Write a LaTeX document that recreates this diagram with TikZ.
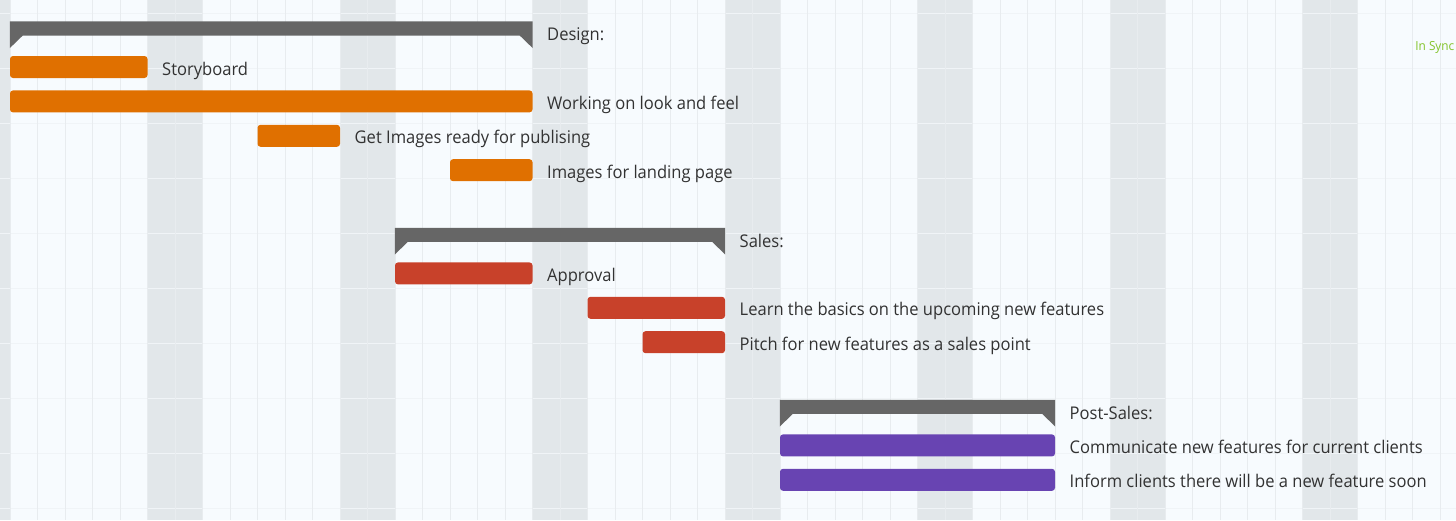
\documentclass[tikz,border=0pt]{standalone}
\usepackage{fontspec}
\setmainfont{Open Sans}[FakeStretch=0.945]
\usetikzlibrary{calc}
\definecolor{bgc}{RGB}{247,251,254}
\definecolor{wkc}{RGB}{226,231,234}
\definecolor{vlc}{RGB}{232,236,239}
\definecolor{hlc}{RGB}{240,244,247}
\definecolor{orc}{RGB}{224,112,0}
\definecolor{rdc}{RGB}{200,65,42}
\definecolor{puc}{RGB}{104,68,178}
\definecolor{smc}{RGB}{102,102,102}
\definecolor{txc}{RGB}{50,50,50}
\definecolor{syc}{RGB}{130,195,40}
\begin{document}
\begin{tikzpicture}[x=1pt,y=-1pt,
  taskbar/.style={rectangle,rounded corners=3pt,minimum height=22pt,inner sep=0pt,draw=none},
  sumbox/.style={rectangle,minimum height=26.3pt,inner sep=0pt,draw=none},
  lbl/.style={anchor=base west,inner sep=0pt,text=txc,font=\fontsize{17.5}{20}\selectfont},
  vline/.style={draw=vlc,line width=1pt},
  hline/.style={draw=hlc,line width=1pt}]
\fill[bgc] (0,0) rectangle (1456,520);
\useasboundingbox (0,0) rectangle (1456,520);
\foreach \m in {-1,...,6} \fill[wkc] ({147.5+192.5*\m},0) rectangle ({202.5+192.5*\m},520);
\foreach \k in {0,...,9} \draw[hline] (0,{13+55*\k}) -- (1456,{13+55*\k});
\foreach \k in {0,...,52} \draw[vline] ({10+27.5*\k},0) -- ({10+27.5*\k},520);
% summaries: start day, end day, row, name, label
\foreach \s/\e/\r/\n/\t in {0/19/0/sdes/Design:,14/26/6/ssal/Sales:,28/38/11/spos/Post-Sales:}{
  \node[sumbox,minimum width={27.5*(\e-\s)*1pt}] (\n) at ({10+27.5*(\s+\e)/2},{32.6+34.4*\r+2.15}) {};
  \fill[smc] (\n.north west) -- (\n.north east) -- (\n.south east)
     -- ($(\n.south east)+(-13,-12.6)$) -- ($(\n.south west)+(13,-12.6)$)
     -- (\n.south west) -- cycle;
  \node[lbl] (\n-l) at ({10+27.5*\e+14.5},{32.6+34.4*\r+8}) {\t};
}
% tasks: start, end, row, colour, name, label
\foreach \s/\e/\r/\c/\n/\t in {
  0/5/1/orc/t1/Storyboard,
  0/19/2/orc/t2/Working on look and feel,
  9/12/3/orc/t3/Get Images ready for publising,
  16/19/4/orc/t4/Images for landing page,
  14/19/7/rdc/t5/Approval,
  21/26/8/rdc/t6/Learn the basics on the upcoming new features,
  23/26/9/rdc/t7/Pitch for new features as a sales point,
  28/38/12/puc/t8/Communicate new features for current clients,
  28/38/13/puc/t9/Inform clients there will be a new feature soon}{
  \node[taskbar,fill=\c,minimum width={27.5*(\e-\s)*1pt}] (\n) at ({10+27.5*(\s+\e)/2},{32.6+34.4*\r}) {};
  \node[lbl] (\n-l) at ({10+27.5*\e+14.5},{32.6+34.4*\r+8}) {\t};
}
\node[anchor=base east,inner sep=0pt,text=syc,font=\fontsize{12.5}{14}\selectfont] (sync) at (1454.5,50.5) {In Sync};
\end{tikzpicture}
\end{document}
